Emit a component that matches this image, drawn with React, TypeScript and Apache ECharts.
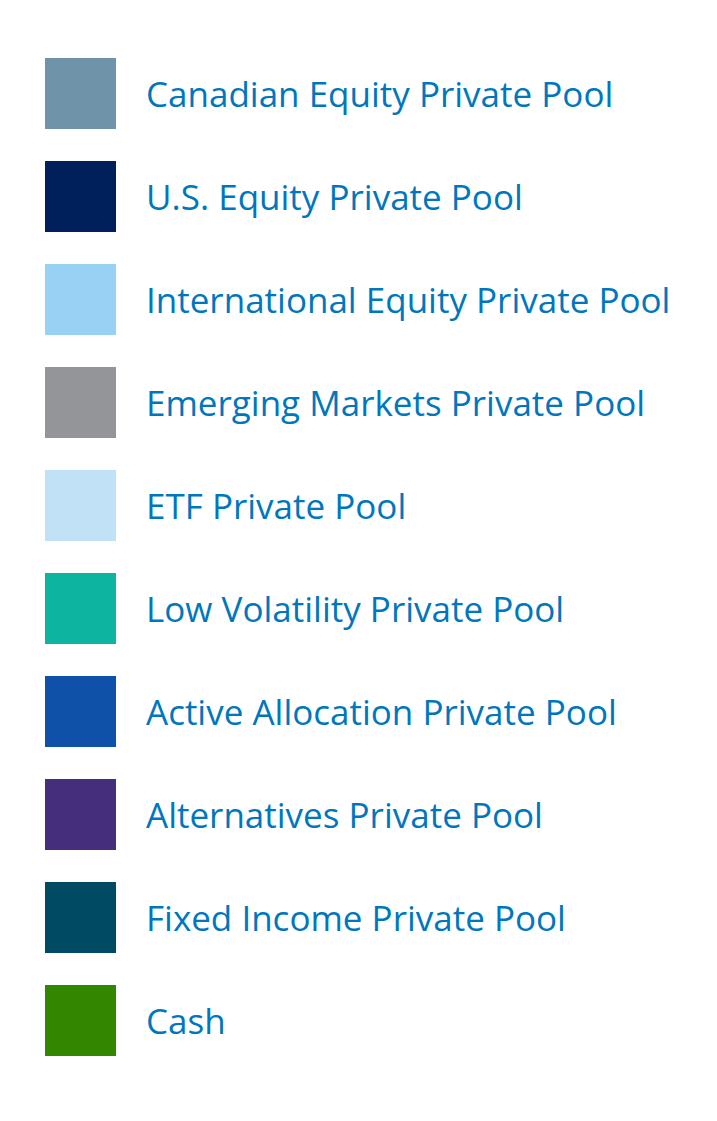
import React, { useEffect, useRef } from 'react';
import * as echarts from 'echarts';

// Fondos en la leyenda, en orden
const pools = [
  'Canadian Equity Private Pool',
  'U.S. Equity Private Pool',
  'International Equity Private Pool',
  'Emerging Markets Private Pool',
  'ETF Private Pool',
  'Low Volatility Private Pool',
  'Active Allocation Private Pool',
  'Alternatives Private Pool',
  'Fixed Income Private Pool',
  'Cash',
];

const poolColors = [
  '#6f93a8',
  '#00205b',
  '#97d1f4',
  '#939598',
  '#c1e1f6',
  '#0db5a0',
  '#0f51a8',
  '#452e7b',
  '#004b63',
  '#318700',
];

const App: React.FC = () => {
  const chartRef = useRef<HTMLDivElement>(null);

  useEffect(() => {
    if (!chartRef.current) return;
    const chart = echarts.init(chartRef.current, null, { renderer: 'svg' });

    const option = {
      animation: false,
      grid: { left: 0, right: 0, top: 0, bottom: 0, show: false },
      xAxis: { type: 'category', show: false, data: [] },
      yAxis: { type: 'value', show: false },
      legend: {
        orient: 'vertical',
        left: 45,
        top: 58,
        padding: 0,
        itemWidth: 71,
        itemHeight: 71,
        itemGap: 32,
        icon: 'rect',
        selectedMode: false,
        data: pools,
        textStyle: {
          color: '#0077bd',
          fontSize: 35,
          fontFamily: 'Open Sans',
          padding: [0, 0, 0, 25],
        },
      },
      series: pools.map((name, i) => ({
        name,
        type: 'bar',
        data: [],
        itemStyle: { color: poolColors[i] },
      })),
    };

    chart.setOption(option);

    return () => {
      chart.dispose();
    };
  }, []);

  return (
    <div
      ref={chartRef}
      style={{ position: 'fixed', left: 0, top: 0, width: '717px', height: '1121px', background: '#fff' }}
    />
  );
};

export default App;
